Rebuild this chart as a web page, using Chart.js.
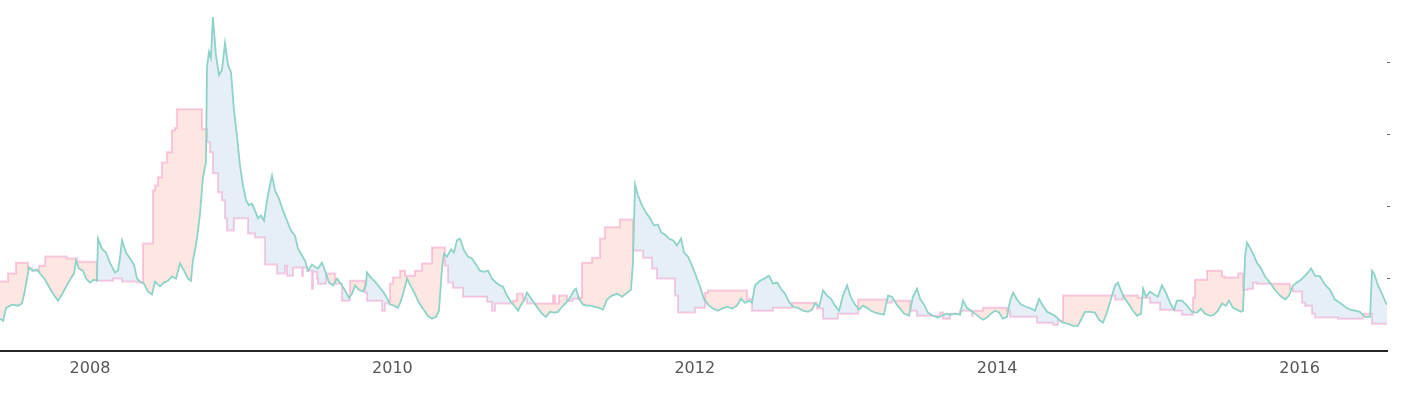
<!DOCTYPE html>
<html>
<head>
<meta charset="utf-8">
<script src="https://cdn.jsdelivr.net/npm/chart.js@4.4.0/dist/chart.umd.min.js"></script>
<style>
  html, body { margin: 0; padding: 0; background: #fff; }
  #wrap { width: 1422px; height: 394px; }
</style>
</head>
<body>
<div id="wrap"><canvas id="chart"></canvas></div>
<script>
// teal series: daily-ish index level (x in decimal years)
const tealDates = [
  2007.405, 2007.425, 2007.445, 2007.484, 2007.524, 2007.550, 2007.570, 2007.597, 2007.623, 2007.650, 2007.670, 2007.703, 2007.736, 2007.769, 2007.789, 2007.815, 2007.842, 2007.868, 2007.894, 2007.908, 2007.927, 2007.954, 2007.974,
  2008.000, 2008.026, 2008.046, 2008.053, 2008.079, 2008.106, 2008.132, 2008.165, 2008.185, 2008.198, 2008.212, 2008.238, 2008.265, 2008.291, 2008.311, 2008.331, 2008.357, 2008.384, 2008.410, 2008.430, 2008.463, 2008.489, 2008.516, 2008.542, 2008.569, 2008.595, 2008.622, 2008.648, 2008.668, 2008.681, 2008.694, 2008.708, 2008.728, 2008.747, 2008.767, 2008.774, 2008.787, 2008.800, 2008.813, 2008.833, 2008.853, 2008.873, 2008.893, 2008.913, 2008.933, 2008.952, 2008.972, 2008.992,
  2009.012, 2009.032, 2009.052, 2009.071, 2009.091, 2009.111, 2009.131, 2009.151, 2009.171, 2009.190, 2009.204, 2009.224, 2009.250, 2009.276, 2009.303, 2009.329, 2009.356, 2009.376, 2009.402, 2009.422, 2009.442, 2009.468, 2009.488, 2009.508, 2009.534, 2009.554, 2009.581, 2009.607, 2009.634, 2009.660, 2009.687, 2009.713, 2009.733, 2009.753, 2009.779, 2009.806, 2009.825, 2009.832, 2009.858, 2009.885, 2009.911, 2009.938, 2009.964, 2009.984,
  2010.010, 2010.037, 2010.057, 2010.077, 2010.097, 2010.123, 2010.149, 2010.176, 2010.202, 2010.235, 2010.262, 2010.288, 2010.308, 2010.328, 2010.341, 2010.361, 2010.388, 2010.407, 2010.427, 2010.447, 2010.474, 2010.500, 2010.526, 2010.553, 2010.579, 2010.606, 2010.632, 2010.659, 2010.685, 2010.711, 2010.731, 2010.758, 2010.784, 2010.811, 2010.831, 2010.851, 2010.870, 2010.890, 2010.910, 2010.937, 2010.963, 2010.989,
  2011.016, 2011.042, 2011.069, 2011.095, 2011.122, 2011.148, 2011.175, 2011.201, 2011.214, 2011.234, 2011.261, 2011.287, 2011.314, 2011.340, 2011.366, 2011.393, 2011.419, 2011.452, 2011.486, 2011.519, 2011.552, 2011.578, 2011.591, 2011.605, 2011.624, 2011.651, 2011.677, 2011.704, 2011.730, 2011.757, 2011.777, 2011.803, 2011.829, 2011.856, 2011.882, 2011.909, 2011.929, 2011.955, 2011.982,
  2012.008, 2012.034, 2012.061, 2012.087, 2012.120, 2012.153, 2012.180, 2012.213, 2012.246, 2012.279, 2012.306, 2012.332, 2012.358, 2012.378, 2012.398, 2012.431, 2012.458, 2012.491, 2012.517, 2012.544, 2012.570, 2012.597, 2012.623, 2012.650, 2012.683, 2012.716, 2012.749, 2012.775, 2012.795, 2012.822, 2012.848, 2012.875, 2012.901, 2012.927, 2012.954, 2012.980,
  2013.007, 2013.033, 2013.060, 2013.086, 2013.112, 2013.139, 2013.165, 2013.192, 2013.218, 2013.251, 2013.278, 2013.304, 2013.331, 2013.357, 2013.384, 2013.417, 2013.443, 2013.470, 2013.490, 2013.516, 2013.542, 2013.575, 2013.608, 2013.635, 2013.661, 2013.694, 2013.721, 2013.754, 2013.774, 2013.800, 2013.827, 2013.853, 2013.880, 2013.906, 2013.933, 2013.959, 2013.986,
  2014.012, 2014.038, 2014.065, 2014.085, 2014.105, 2014.131, 2014.158, 2014.191, 2014.224, 2014.250, 2014.277, 2014.303, 2014.330, 2014.356, 2014.382, 2014.409, 2014.435, 2014.468, 2014.501, 2014.534, 2014.554, 2014.581, 2014.614, 2014.647, 2014.673, 2014.700, 2014.726, 2014.753, 2014.779, 2014.799, 2014.819, 2014.845, 2014.872, 2014.898, 2014.925, 2014.951, 2014.965, 2014.984,
  2015.011, 2015.037, 2015.063, 2015.090, 2015.116, 2015.143, 2015.169, 2015.189, 2015.222, 2015.255, 2015.288, 2015.321, 2015.348, 2015.374, 2015.407, 2015.434, 2015.460, 2015.487, 2015.513, 2015.533, 2015.559, 2015.586, 2015.612, 2015.626, 2015.639, 2015.652, 2015.672, 2015.698, 2015.718, 2015.745, 2015.771, 2015.804, 2015.837, 2015.870, 2015.904, 2015.930, 2015.956, 2015.983,
  2016.009, 2016.036, 2016.056, 2016.076, 2016.102, 2016.135, 2016.168, 2016.201, 2016.234, 2016.267, 2016.300, 2016.333, 2016.366, 2016.399, 2016.433, 2016.466, 2016.479, 2016.492, 2016.519, 2016.545, 2016.572, 2016.598
];
const tealValues = [
  8.9, 8.3, 11.9, 12.8, 12.5, 13.1, 16.7, 23.1, 22.2, 22.5, 21.4, 19.7, 17.2, 15.0, 13.9, 15.6, 17.8, 19.7, 21.4, 25.0, 22.8, 22.2, 20.0,
  18.9, 19.7, 19.4, 31.1, 28.3, 27.2, 24.4, 21.7, 22.2, 25.6, 30.6, 27.2, 25.6, 23.9, 20.0, 19.2, 18.6, 16.4, 15.6, 19.2, 17.8, 18.9, 19.4, 20.6, 20.0, 24.2, 22.2, 20.0, 19.4, 25.0, 27.8, 31.1, 38.1, 48.1, 52.2, 78.6, 82.8, 81.1, 92.5, 81.9, 76.4, 77.8, 85.3, 79.2, 77.2, 66.7, 59.7, 51.4,
  45.8, 41.7, 40.3, 40.8, 38.9, 36.7, 37.5, 36.1, 41.7, 45.8, 48.6, 44.4, 42.2, 38.9, 36.1, 33.3, 31.9, 28.3, 26.4, 25.0, 22.2, 23.9, 23.3, 22.8, 24.4, 22.2, 18.9, 18.1, 20.0, 18.6, 16.7, 14.7, 15.8, 18.1, 16.9, 16.4, 18.1, 21.7, 20.3, 19.2, 17.8, 16.4, 14.7, 12.8,
  12.5, 11.9, 13.9, 16.7, 20.0, 17.8, 15.8, 13.3, 11.7, 9.7, 8.9, 9.4, 11.1, 22.8, 26.9, 26.1, 28.1, 27.2, 30.6, 31.1, 27.8, 26.1, 25.6, 23.9, 22.2, 21.9, 22.2, 20.0, 18.9, 18.1, 17.8, 15.3, 13.6, 12.2, 11.1, 12.8, 13.9, 16.1, 15.0, 13.3, 11.7, 10.3,
  9.4, 10.8, 10.6, 10.8, 12.2, 13.3, 14.7, 16.7, 17.2, 14.4, 12.8, 12.5, 12.5, 12.2, 11.9, 11.4, 14.2, 15.3, 15.8, 15.0, 16.1, 16.9, 24.4, 46.1, 43.1, 40.3, 38.3, 36.7, 34.7, 35.0, 32.8, 32.2, 31.1, 30.6, 29.2, 31.1, 27.2, 26.1, 23.6,
  20.8, 17.8, 14.4, 12.8, 11.7, 11.1, 11.7, 12.2, 11.7, 12.5, 14.4, 13.3, 13.9, 13.3, 18.1, 19.4, 20.0, 20.8, 18.6, 18.9, 17.2, 15.8, 13.6, 12.2, 11.9, 11.1, 10.8, 11.4, 13.1, 12.2, 16.7, 15.3, 14.4, 12.5, 11.1, 15.3,
  18.1, 14.7, 12.8, 11.4, 12.5, 11.9, 11.1, 10.6, 10.3, 10.0, 15.3, 15.0, 13.1, 11.7, 10.3, 9.7, 15.0, 17.2, 14.4, 12.8, 10.6, 9.7, 9.2, 9.7, 10.3, 10.0, 10.3, 10.0, 13.9, 11.9, 11.1, 10.3, 9.4, 8.6, 9.2, 10.3, 11.1,
  10.6, 8.9, 9.4, 13.9, 16.1, 14.2, 12.8, 12.2, 11.7, 11.1, 14.4, 12.5, 10.8, 10.3, 9.7, 8.6, 7.8, 7.5, 6.9, 6.9, 8.6, 10.8, 10.8, 10.6, 8.6, 7.8, 10.6, 14.4, 18.1, 18.9, 16.7, 14.4, 12.8, 11.1, 9.7, 10.3, 17.2, 15.0,
  16.4, 15.6, 15.0, 18.1, 16.1, 13.3, 11.4, 13.9, 13.9, 12.5, 10.8, 10.6, 11.7, 10.3, 9.7, 10.0, 11.1, 13.1, 12.5, 13.9, 11.9, 11.4, 10.8, 11.1, 26.1, 30.0, 28.6, 26.4, 24.4, 22.8, 20.6, 18.9, 16.9, 15.3, 14.2, 15.3, 18.1, 18.9,
  19.7, 20.8, 21.7, 22.8, 20.8, 20.6, 18.3, 16.9, 14.2, 13.3, 12.2, 11.4, 11.1, 10.8, 9.4, 9.4, 22.2, 21.4, 18.1, 15.8, 13.1, 12.2
];

// pink series: step level, each value holds from its date until the next one
const pinkDates = [
  2007.405, 2007.458, 2007.511, 2007.590, 2007.617, 2007.663, 2007.703, 2007.848, 2007.914,
  2008.046, 2008.152, 2008.212, 2008.311, 2008.351, 2008.417, 2008.430, 2008.450, 2008.476, 2008.509, 2008.542, 2008.562, 2008.575, 2008.741, 2008.774, 2008.794, 2008.813, 2008.847, 2008.873, 2008.893, 2008.906, 2008.952,
  2009.045, 2009.091, 2009.157, 2009.237, 2009.290, 2009.303, 2009.343, 2009.402, 2009.409, 2009.435, 2009.468, 2009.475, 2009.501, 2009.508, 2009.561, 2009.621, 2009.667, 2009.720, 2009.819, 2009.832, 2009.932, 2009.951, 2009.984,
  2010.004, 2010.051, 2010.084, 2010.149, 2010.196, 2010.262, 2010.348, 2010.368, 2010.401, 2010.467, 2010.626, 2010.659, 2010.679, 2010.798, 2010.824, 2010.864, 2010.890,
  2011.062, 2011.076, 2011.102, 2011.155, 2011.195, 2011.228, 2011.254, 2011.320, 2011.373, 2011.406, 2011.505, 2011.591, 2011.658, 2011.717, 2011.750, 2011.869, 2011.889,
  2012.002, 2012.068, 2012.087, 2012.345, 2012.378, 2012.517, 2012.643, 2012.808, 2012.848, 2012.947,
  2013.080, 2013.272, 2013.304, 2013.424, 2013.470, 2013.622, 2013.642, 2013.688, 2013.754, 2013.834, 2013.840, 2013.906,
  2014.065, 2014.085, 2014.264, 2014.369, 2014.402, 2014.435, 2014.779, 2014.832, 2014.931,
  2015.011, 2015.077, 2015.176, 2015.222, 2015.295, 2015.308, 2015.388, 2015.487, 2015.507, 2015.593, 2015.626, 2015.659, 2015.692, 2015.718, 2015.937, 2015.956,
  2016.016, 2016.036, 2016.082, 2016.102, 2016.254, 2016.420, 2016.479, 2016.598
];
const pinkValues = [
  19.2, 21.4, 24.4, 22.8, 22.2, 23.6, 26.1, 25.6, 24.7,
  19.4, 20.0, 19.2, 18.9, 29.7, 44.4, 45.8, 48.1, 52.2, 55.0, 61.1, 61.7, 66.9, 61.4, 57.8, 55.0, 49.2, 43.9, 41.7, 36.7, 33.3, 36.7,
  32.5, 31.4, 23.9, 21.4, 23.6, 20.8, 23.1, 20.8, 23.1, 22.2, 17.2, 21.9, 20.0, 18.6, 21.4, 18.6, 13.9, 19.4, 16.1, 13.9, 11.1, 13.1, 18.6,
  20.3, 22.2, 20.8, 22.2, 24.2, 28.6, 23.6, 18.9, 17.5, 15.0, 13.6, 11.1, 13.1, 13.9, 15.8, 14.4, 13.1,
  15.3, 13.1, 15.3, 13.9, 14.4, 14.7, 24.4, 25.8, 31.1, 34.2, 36.4, 27.8, 25.8, 22.8, 20.0, 15.3, 10.6,
  11.9, 16.1, 16.7, 14.4, 11.1, 11.9, 13.3, 11.7, 8.9, 10.3,
  14.2, 13.3, 13.9, 11.1, 9.7, 10.6, 8.9, 10.3, 11.1, 9.7, 11.1, 11.9,
  11.1, 9.4, 7.8, 7.2, 8.3, 15.3, 14.2, 15.3, 14.7,
  13.3, 11.4, 11.1, 10.0, 14.7, 19.7, 22.2, 20.6, 20.3, 21.4, 16.9, 17.2, 18.9, 18.6, 17.2, 16.4,
  13.3, 12.5, 10.3, 9.2, 8.9, 10.3, 7.5, 7.5
];

const xTickYears = [2008, 2010, 2012, 2014, 2016];
const yTickValues = [20, 40, 60, 80];

const tealPoints = tealDates.map((d, i) => ({ x: d, y: tealValues[i] }));
const pinkPoints = pinkDates.map((d, i) => ({ x: d, y: pinkValues[i] }));

const ctx = document.getElementById('chart');
new Chart(ctx, {
  type: 'line',
  data: {
    datasets: [{
      label: 'teal',
      data: tealPoints,
      borderColor: '#8dd3c7',
      borderWidth: 1.8,
      pointRadius: 0,
      tension: 0,
      fill: {
        target: 1,
        above: 'rgba(128, 177, 211, 0.2)',
        below: 'rgba(251, 128, 114, 0.2)'
      }
    }, {
      label: 'pink',
      data: pinkPoints,
      borderColor: '#fccde5',
      borderWidth: 2,
      pointRadius: 0,
      stepped: true,
      fill: false
    }]
  },
  options: {
    responsive: true,
    maintainAspectRatio: false,
    animation: false,
    devicePixelRatio: 1,
    layout: {
      padding: { left: 0, right: 32, top: 0, bottom: 16 }
    },
    plugins: {
      legend: { display: false },
      tooltip: { enabled: false }
    },
    scales: {
      x: {
        type: 'linear',
        min: 2007.405,
        max: 2016.578,
        afterBuildTicks: (scale) => {
          scale.ticks = xTickYears.map(v => ({ value: v }));
        },
        grid: { display: false },
        border: { display: true, color: '#262626', width: 2 },
        ticks: {
          autoSkip: false,
          maxRotation: 0,
          padding: 0,
          color: '#555555',
          font: { family: 'DejaVu Sans', size: 16 },
          callback: (v) => String(v)
        }
      },
      y: {
        position: 'right',
        min: 0,
        max: 97.2,
        afterBuildTicks: (scale) => {
          scale.ticks = yTickValues.map(v => ({ value: v }));
        },
        grid: {
          display: true,
          drawOnChartArea: false,
          drawTicks: true,
          tickLength: 3,
          color: '#666666'
        },
        border: { display: false },
        ticks: { display: false }
      }
    }
  }
});
</script>
</body>
</html>
